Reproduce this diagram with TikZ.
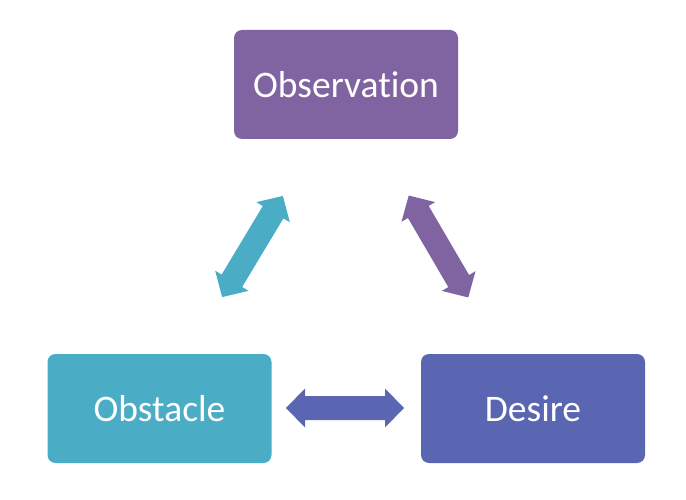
\documentclass[tikz,border=0pt]{standalone}
\usepackage{fontspec}
\setmainfont{Carlito}[Ligatures={NoCommon}]
\definecolor{cobs}{HTML}{8064A2}
\definecolor{cobt}{HTML}{4BACC6}
\definecolor{cdes}{HTML}{5A66B2}
\tikzset{
  box/.style={rounded corners=8pt, minimum width=224pt, minimum height=109pt, inner sep=0pt,
    text=white, font=\fontsize{37.5}{44}\selectfont},
}
\newcommand\dblarr[3]{% center, angle, colour
  \begin{scope}[shift={#1}, rotate=#2]
    \fill[#3] (-59,0) -- (-40,-19.5) -- (-40,-12) -- (40,-12) -- (40,-19.5) -- (59,0)
      -- (40,19.5) -- (40,12) -- (-40,12) -- (-40,19.5) -- cycle;
  \end{scope}}
\begin{document}
\begin{tikzpicture}[x=1pt,y=-1pt]
\useasboundingbox (0,0) rectangle (686,500);
\node[box, fill=cobs] (obs) at (346,84.5) {Observation};
\node[box, fill=cobt] (obt) at (159.5,408.5) {Obstacle};
\node[box, fill=cdes] (des) at (533,408.5) {Desire};
\coordinate (al) at (252.5,246.5);
\coordinate (ar) at (438.5,246.5);
\coordinate (ab) at (345,408);
\dblarr{(al)}{59}{cobt}
\dblarr{(ar)}{-59.7}{cobs}
\dblarr{(ab)}{0}{cdes}
\end{tikzpicture}
\end{document}
